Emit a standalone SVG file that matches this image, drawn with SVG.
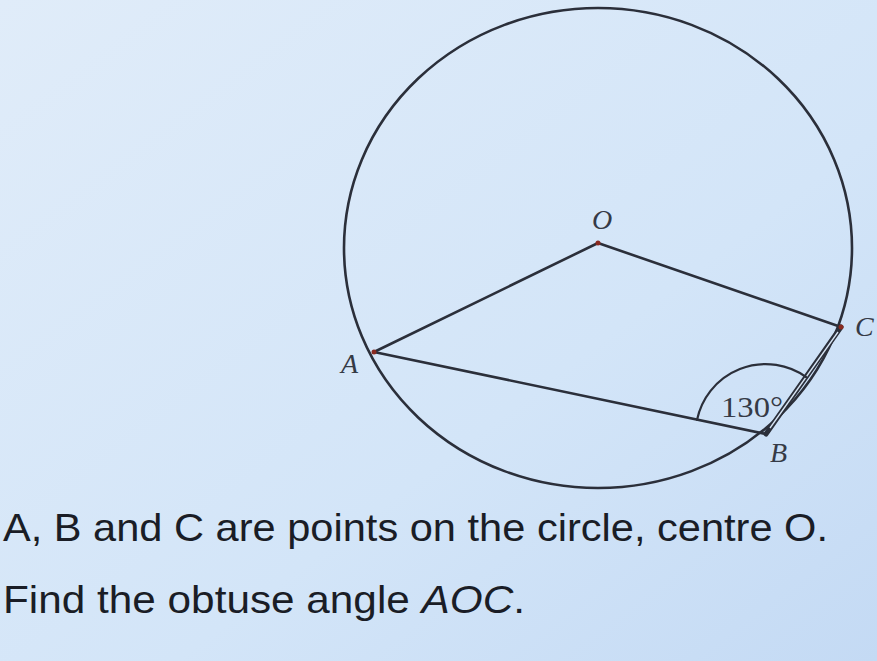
<svg xmlns="http://www.w3.org/2000/svg" width="877" height="661" viewBox="0 0 877 661">
  <defs>
    <linearGradient id="bg" x1="0" y1="0" x2="1" y2="1">
      <stop offset="0" stop-color="#e0ecf9"/>
      <stop offset="0.6" stop-color="#d3e5f8"/>
      <stop offset="1" stop-color="#c4daf4"/>
    </linearGradient>
  </defs>
  <style>
    .ln { stroke: #2b2f3a; stroke-width: 2.6; fill: none; stroke-linecap: round; }
    .lbl { font-family: "Liberation Serif", "DejaVu Serif", serif; font-style: italic; fill: #353a46; font-size: 28px; }
    .txt { font-family: "Liberation Sans", Arial, sans-serif; fill: #1a1d26; font-size: 39px; }
    .pt { fill: #8a2a20; }
  </style>
  <rect width="877" height="661" fill="url(#bg)"/>

  <g id="circle">
    <ellipse class="ln" cx="598" cy="248" rx="254" ry="240"/>
  </g>

  <g id="connectors">
    <line class="ln" x1="598" y1="243" x2="374" y2="352"/>
    <line class="ln" x1="598" y1="243" x2="841" y2="327"/>
    <line class="ln" x1="374" y1="352" x2="766" y2="434"/>
    <line class="ln" x1="766" y1="434" x2="841" y2="327" style="stroke-width:5"/>
    <line x1="770" y1="428" x2="838" y2="332" stroke="#d9e6f5" stroke-width="1.3"/>
    <path class="ln" d="M697,420 A70,70 0 0 1 806,377" style="stroke-width:2.2"/>
  </g>

  <g id="O">
    <circle class="pt" cx="598" cy="243" r="2.5"/>
    <text class="lbl" x="592" y="229">O</text>
  </g>
  <g id="A">
    <circle class="pt" cx="374" cy="352" r="2.5"/>
    <text class="lbl" x="341" y="373">A</text>
  </g>
  <g id="B">
    <text class="lbl" x="770" y="462">B</text>
  </g>
  <g id="C">
    <circle class="pt" cx="841" cy="327" r="2.5"/>
    <text class="lbl" x="855" y="336">C</text>
  </g>
  <g id="angle">
    <text x="721" y="417" font-family="'Liberation Serif', serif" font-size="29" fill="#353a46" textLength="62" lengthAdjust="spacingAndGlyphs">130°</text>
  </g>

  <g id="question">
    <text class="txt" x="3" y="541" textLength="825" lengthAdjust="spacingAndGlyphs">A, B and C are points on the circle, centre O.</text>
    <text class="txt" x="3" y="613" textLength="522" lengthAdjust="spacingAndGlyphs">Find the obtuse angle <tspan font-style="italic">AOC</tspan>.</text>
  </g>
</svg>
